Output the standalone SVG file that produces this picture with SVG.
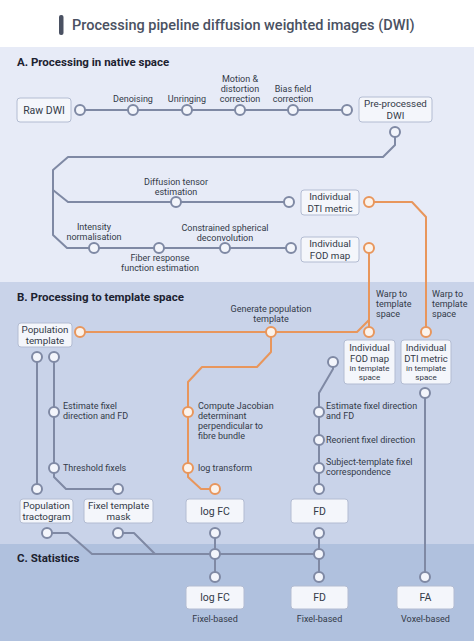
<svg xmlns="http://www.w3.org/2000/svg" width="474" height="642" viewBox="0 0 474 642">
<style>
text{font-family:Roboto,"Liberation Sans",sans-serif;fill:#333a48}
.title{font-size:14.5px;font-weight:500;fill:#4a5162}
.hdr{font-size:11.5px;font-weight:700;fill:#1c2230}
.lbl{font-size:9px}
.box{fill:#f4f6fb;stroke:#b3bcd2;stroke-width:1}
.bt{font-size:10.5px;text-anchor:middle}
.b2{font-size:9.8px;text-anchor:middle}
.bm{font-size:9.5px;text-anchor:middle}
.bs{font-size:8px;text-anchor:middle}
.g{fill:none;stroke:#7f89a4;stroke-width:2;stroke-linejoin:round}
.o{fill:none;stroke:#e8965c;stroke-width:2;stroke-linejoin:round}
.cg{fill:#f3f5fb;stroke:#7f89a4;stroke-width:2}
.co{fill:#fbf3ec;stroke:#e8965c;stroke-width:2}
.c{text-anchor:middle}
</style>
<rect x="0" y="0" width="474" height="642" fill="#ffffff"/>
<g id="panels">
<rect x="0" y="47" width="474" height="236" fill="#e7ebf7"/>
<rect x="0" y="282" width="474" height="262" fill="#c9d3e9"/>
<rect x="0" y="544" width="474" height="97" fill="#b0c1de"/>
</g>
<g id="title">
<rect x="59" y="15" width="4.5" height="20" rx="2" fill="#4a5162"/>
<text class="title" x="72" y="30">Processing pipeline diffusion weighted images (DWI)</text>
</g>
<g id="headers">
<text class="hdr" x="17" y="66">A. Processing in native space</text>
<text class="hdr" x="17" y="301">B. Processing to template space</text>
<text class="hdr" x="17" y="562">C. Statistics</text>
</g>
<g id="connectors">
<path class="g" d="M80,110 H347"/>
<path class="g" d="M395,132 V145 L383,157 H68 L53,170 V235 L67,248 H291"/>
<path class="g" d="M53,190 L68,202 H289"/>
<path class="g" d="M37,357 V489"/>
<path class="g" d="M54,357 V477 L66,489 H118"/>
<path class="g" d="M333,362 V369 L319,393 V489"/>
<path class="g" d="M425,393 V577"/>
<path class="g" d="M47,533 H68 L92,554 H319"/>
<path class="g" d="M118,533 H134 L155,554"/>
<path class="g" d="M215,533 V577"/>
<path class="g" d="M319,533 V577"/>
<path class="o" d="M369,202 H412 L426,217 V332"/>
<path class="o" d="M369,248 V332"/>
<path class="o" d="M369,320 L357,332 H80"/>
<path class="o" d="M271,332 V352 L257,367 H202 L188,382 V477 L201,489 H215"/>
</g>
<g id="n-raw-dwi">
<rect class="box" x="17" y="98" width="54" height="24" rx="3"/>
<text class="bt" x="44" y="114">Raw DWI</text>
</g>
<g id="n-preprocessed-dwi">
<rect class="box" x="359" y="97" width="73" height="25" rx="3"/>
<text class="b2" x="395.5" y="107">Pre-processed</text>
<text class="b2" x="395.5" y="118.5">DWI</text>
</g>
<g id="n-dti-metric">
<rect class="box" x="301" y="190" width="58" height="25" rx="3"/>
<text class="b2" x="330" y="200">Individual</text>
<text class="b2" x="330" y="211.5">DTI metric</text>
</g>
<g id="n-fod-map">
<rect class="box" x="301" y="237" width="58" height="25" rx="3"/>
<text class="b2" x="330" y="247">Individual</text>
<text class="b2" x="330" y="258.5">FOD map</text>
</g>
<g id="n-population-template">
<rect class="box" x="18" y="323" width="54" height="24" rx="3"/>
<text class="b2" x="45" y="332.5">Population</text>
<text class="b2" x="45" y="344">template</text>
</g>
<g id="n-fod-template">
<rect class="box" x="344" y="340" width="51" height="44" rx="3"/>
<text class="bm" x="369.5" y="351">Individual</text>
<text class="bm" x="369.5" y="361.5">FOD map</text>
<text class="bs" x="369.5" y="371">in template</text>
<text class="bs" x="369.5" y="380">space</text>
</g>
<g id="n-dti-template">
<rect class="box" x="401" y="340" width="50" height="44" rx="3"/>
<text class="bm" x="426" y="351">Individual</text>
<text class="bm" x="426" y="361.5">DTI metric</text>
<text class="bs" x="426" y="371">in template</text>
<text class="bs" x="426" y="380">space</text>
</g>
<g id="n-population-tractogram">
<rect class="box" x="20" y="499" width="53" height="24" rx="3"/>
<text class="b2" x="46.5" y="508.5">Population</text>
<text class="b2" x="46.5" y="520">tractogram</text>
</g>
<g id="n-fixel-mask">
<rect class="box" x="84" y="499" width="69" height="24" rx="3"/>
<text class="b2" x="118.5" y="508.5">Fixel template</text>
<text class="b2" x="118.5" y="520">mask</text>
</g>
<g id="n-logfc">
<rect class="box" x="186" y="499" width="58" height="24" rx="3"/>
<text class="bt" x="215" y="514.5">log FC</text>
</g>
<g id="n-fd">
<rect class="box" x="291" y="499" width="57" height="24" rx="3"/>
<text class="bt" x="319.5" y="514.5">FD</text>
</g>
<g id="n-stat-logfc">
<rect class="box" x="186" y="586" width="58" height="23" rx="3"/>
<text class="bt" x="215" y="601">log FC</text>
<text class="lbl c" x="215" y="622">Fixel-based</text>
</g>
<g id="n-stat-fd">
<rect class="box" x="291" y="586" width="57" height="23" rx="3"/>
<text class="bt" x="319.5" y="601">FD</text>
<text class="lbl c" x="319.5" y="622">Fixel-based</text>
</g>
<g id="n-stat-fa">
<rect class="box" x="397" y="586" width="57" height="23" rx="3"/>
<text class="bt" x="425.5" y="601">FA</text>
<text class="lbl c" x="425.5" y="622">Voxel-based</text>
</g>
<g id="steps-native">
<circle class="cg" cx="80" cy="110" r="5"/>
<circle class="cg" cx="133" cy="110" r="5"/>
<text class="lbl c" x="133" y="102">Denoising</text>
<circle class="cg" cx="187" cy="110" r="5"/>
<text class="lbl c" x="187" y="102">Unringing</text>
<circle class="cg" cx="240" cy="110" r="5"/>
<text class="lbl c" x="240" y="82">Motion &amp;</text>
<text class="lbl c" x="240" y="92">distortion</text>
<text class="lbl c" x="240" y="102">correction</text>
<circle class="cg" cx="293" cy="110" r="5"/>
<text class="lbl c" x="293" y="92">Bias field</text>
<text class="lbl c" x="293" y="102">correction</text>
<circle class="cg" cx="347" cy="110" r="5"/>
<circle class="cg" cx="395" cy="132" r="5"/>
<circle class="cg" cx="176" cy="202" r="5"/>
<text class="lbl c" x="176" y="185">Diffusion tensor</text>
<text class="lbl c" x="176" y="194.5">estimation</text>
<circle class="cg" cx="289" cy="202" r="5"/>
<circle class="cg" cx="94" cy="248" r="5"/>
<text class="lbl c" x="94" y="230">Intensity</text>
<text class="lbl c" x="94" y="239.5">normalisation</text>
<circle class="cg" cx="159" cy="248" r="5"/>
<text class="lbl c" x="160" y="261">Fiber response</text>
<text class="lbl c" x="160" y="270.5">function estimation</text>
<circle class="cg" cx="225" cy="248" r="5"/>
<text class="lbl c" x="225" y="231">Constrained spherical</text>
<text class="lbl c" x="225" y="240.5">deconvolution</text>
<circle class="cg" cx="291" cy="248" r="5"/>
<circle class="co" cx="369" cy="202" r="5"/>
<circle class="co" cx="369" cy="248" r="5"/>
</g>
<g id="steps-template">
<text class="lbl" x="376" y="297">Warp to</text>
<text class="lbl" x="376" y="307">template</text>
<text class="lbl" x="376" y="317">space</text>
<text class="lbl" x="432" y="297">Warp to</text>
<text class="lbl" x="432" y="307">template</text>
<text class="lbl" x="432" y="317">space</text>
<circle class="co" cx="369" cy="332" r="5"/>
<circle class="co" cx="426" cy="332" r="5"/>
<circle class="co" cx="80" cy="332" r="5"/>
<circle class="co" cx="271" cy="332" r="5"/>
<text class="lbl c" x="271" y="312">Generate population</text>
<text class="lbl c" x="271" y="322">template</text>
<circle class="co" cx="188" cy="412" r="5"/>
<text class="lbl" x="198" y="409">Compute Jacobian</text>
<text class="lbl" x="198" y="419">determinant</text>
<text class="lbl" x="198" y="429">perpendicular to</text>
<text class="lbl" x="198" y="439">fibre bundle</text>
<circle class="co" cx="188" cy="468" r="5"/>
<text class="lbl" x="198" y="471">log transform</text>
<circle class="co" cx="215" cy="489" r="5"/>
<circle class="cg" cx="37" cy="357" r="5"/>
<circle class="cg" cx="54" cy="357" r="5"/>
<circle class="cg" cx="54" cy="412" r="5"/>
<text class="lbl" x="63" y="409">Estimate fixel</text>
<text class="lbl" x="63" y="419">direction and FD</text>
<circle class="cg" cx="54" cy="468" r="5"/>
<text class="lbl" x="63" y="471">Threshold fixels</text>
<circle class="cg" cx="37" cy="489" r="5"/>
<circle class="cg" cx="118" cy="489" r="5"/>
<circle class="cg" cx="333" cy="362" r="5"/>
<circle class="cg" cx="319" cy="412" r="5"/>
<text class="lbl" x="326" y="409">Estimate fixel direction</text>
<text class="lbl" x="326" y="419">and FD</text>
<circle class="cg" cx="319" cy="440" r="5"/>
<text class="lbl" x="326" y="443">Reorient fixel direction</text>
<circle class="cg" cx="319" cy="468" r="5"/>
<text class="lbl" x="326" y="465">Subject-template fixel</text>
<text class="lbl" x="326" y="475">correspondence</text>
<circle class="cg" cx="319" cy="489" r="5"/>
<circle class="cg" cx="425" cy="393" r="5"/>
</g>
<g id="steps-stats">
<circle class="cg" cx="47" cy="533" r="5"/>
<circle class="cg" cx="118" cy="533" r="5"/>
<circle class="cg" cx="215" cy="533" r="5"/>
<circle class="cg" cx="319" cy="533" r="5"/>
<circle class="cg" cx="215" cy="554" r="5"/>
<circle class="cg" cx="319" cy="554" r="5"/>
<circle class="cg" cx="215" cy="577" r="5"/>
<circle class="cg" cx="319" cy="577" r="5"/>
<circle class="cg" cx="425" cy="577" r="5"/>
</g>
</svg>
